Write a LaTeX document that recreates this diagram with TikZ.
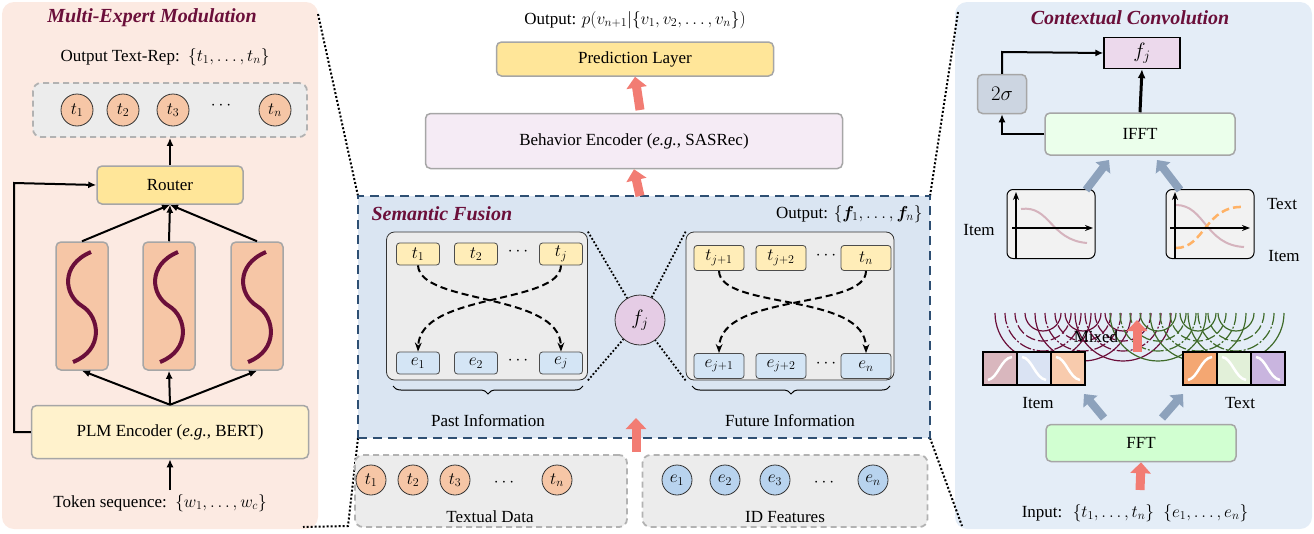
\documentclass[tikz,border=0pt]{standalone}
\usepackage{bm}
\usepackage{fontspec}
\setmainfont{Liberation Serif}
\usetikzlibrary{arrows.meta,decorations.pathreplacing}
\definecolor{maroon}{HTML}{6B0F3A}
\definecolor{peachbg}{HTML}{FCEAE2}
\definecolor{bluebg}{HTML}{E4EDF7}
\definecolor{semf}{HTML}{DAE5F2}
\definecolor{navy}{HTML}{2E4F73}
\definecolor{salmon}{HTML}{F27C73}
\definecolor{grayblue}{HTML}{8DA2BC}
\definecolor{yel}{HTML}{FFE699}
\definecolor{lyel}{HTML}{FFF2CC}
\definecolor{peach}{HTML}{F6C6A6}
\definecolor{lblue}{HTML}{B8D3EE}
\definecolor{grn}{HTML}{3F6B2A}
\definecolor{sqA}{HTML}{D9B7BE}
\definecolor{sqB}{HTML}{DAE3F3}
\definecolor{sqC}{HTML}{F8CBAD}
\definecolor{sqD}{HTML}{F4A772}
\definecolor{sqE}{HTML}{E2F0D9}
\definecolor{sqF}{HTML}{C9B5DF}
\definecolor{pinkc}{HTML}{D5B3BD}
\tikzset{
 every node/.style={font=\fontsize{17}{20}\selectfont},
 box/.style={draw=gray!70,line width=1.5pt,rounded corners=5pt,inner sep=0pt},
 ttl/.style={font=\fontsize{20}{24}\selectfont\bfseries\itshape,text=maroon},
 circ/.style={circle,draw=black!80,line width=0.8pt,minimum size=32pt,inner sep=0pt},
 sbox/.style={draw=black!70,line width=0.8pt,rounded corners=3pt,minimum width=43pt,minimum height=22pt,inner sep=0pt},
 arr/.style={-{Latex[length=8pt,width=7pt]},line width=2pt},
 blk/.style={-{Triangle[length=11pt,width=20pt]},line width=9pt,salmon},
 gblk/.style={-{Triangle[length=10pt,width=18pt]},line width=8pt,grayblue},
 dotl/.style={dotted,line width=2pt},
 dgbox/.style={draw=gray!60,line width=1.8pt,dash pattern=on 6pt off 4pt,rounded corners=8pt,fill=gray!15},
 st1/.style={solid},
 st2/.style={dash pattern=on 10pt off 3pt},
 st3/.style={dash pattern=on 12pt off 2pt on 2pt off 2pt},
 st4/.style={solid},
}
\begin{document}
\begin{tikzpicture}[x=1pt,y=-1pt]
\useasboundingbox (0,0) rectangle (1314,533);
% ---------- panels
\fill[peachbg,rounded corners=12pt] (2,2) rectangle (318,529);
\fill[bluebg,rounded corners=12pt] (955,2) rectangle (1312,529);
% dotted guides
\draw[dotl] (318,14) -- (358,196);
\draw[dotl] (358,438) -- (348,526) -- (303,527);
\draw[dotl] (958,12) -- (930,196);
\draw[dotl] (930,438) -- (962,526);
% ---------- left panel
\node[ttl] at (152,18) {Multi-Expert Modulation};
\node at (165,57) {Output Text-Rep: \,$\{t_1,\ldots,t_n\}$};
\node[dgbox,minimum width=274pt,minimum height=54pt] (ob) at (170,110) {};
\foreach \x/\l in {77/1,123/2,173/3,275/n}
  \node[circ,fill=peach] at (\x,110) {$t_{\l}$};
\node at (221,106) {$\cdots$};
\node[box,fill=yel,minimum width=146pt,minimum height=38pt] (router) at (170,185) {Router};
\foreach \x/\n in {82/e1,169/e2,257/e3}{
  \node[box,fill=peach,minimum width=52pt,minimum height=128pt] (\n) at (\x,306) {};
  \draw[maroon,line width=4pt] (\x+9,252) .. controls (\x-22,265) and (\x-18,295) .. (\x,306)
      .. controls (\x+18,317) and (\x+22,350) .. (\x-9,362);
}
\node[box,fill=lyel,minimum width=277pt,minimum height=53pt] (plm) at (170,432) {PLM Encoder (\textit{e.g.}, BERT)};
\coordinate (tok) at (170,490);
\node at (160,503) {Token sequence: \,$\{w_1,\ldots,w_c\}$};
\draw[arr] (router.north) -- (ob.south);
\foreach \n in {e1,e2,e3}{
  \draw[arr] (\n.north) -- (router.south);
  \draw[arr] (plm.north) -- (\n.south);
}
\draw[arr] (plm.west) -- (14,432) -- (14,183) -- (router.west);
\draw[arr] (tok) -- (plm.south);
% ---------- center
\node at (635,20) {Output: $p(v_{n+1}|\{v_1,v_2,\ldots,v_n\})$};
\node[box,fill=yel,minimum width=277pt,minimum height=34pt] (pred) at (635,59) {Prediction Layer};
\node[box,fill=violet!8,minimum width=417pt,minimum height=55pt] (beh) at (634,141) {Behavior Encoder (\textit{e.g.}, SASRec)};
\node[draw=navy,fill=semf,line width=2.2pt,dash pattern=on 9pt off 6pt,minimum width=572pt,minimum height=242pt,inner sep=0pt] (sf) at (644,317) {};
\draw[blk] (640,110) -- (pred.south);
\draw[blk] (640,196) -- (beh.south);
\node[ttl,anchor=west] at (368,214) {Semantic Fusion};
\node[anchor=east] at (926,214) {Output: $\{\bm{f}_1,\ldots,\bm{f}_n\}$};
% inner boxes
\node[draw=black!80,fill=gray!15,rounded corners=8pt,line width=0.8pt,minimum width=201pt,minimum height=148pt,inner sep=0pt] (pb) at (487,306) {};
\node[draw=black!80,fill=gray!15,rounded corners=8pt,line width=0.8pt,minimum width=208pt,minimum height=148pt,inner sep=0pt] (fb) at (790,306) {};
\node[circ,fill=violet!20,minimum size=50pt,font=\fontsize{22}{24}\selectfont] (fj) at (640,320) {$f_j$};
\foreach \x/\l/\n in {418/1/a,476/2/b,561/j/c}{
  \node[sbox,fill=yel!70] (pt\n) at (\x,254) {$t_{\l}$};
  \node[sbox,fill=lblue!60] (pe\n) at (\x,363) {$e_{\l}$};
}
\node at (518,252) {$\cdots$};\node at (518,361) {$\cdots$};
\foreach \x/\l/\n in {719/{j+1}/a,781/{j+2}/b,866/n/c}{
  \node[sbox,fill=yel!70,minimum width=50pt,minimum height=25pt] (ft\n) at (\x,258) {$t_{\l}$};
  \node[sbox,fill=lblue!60,minimum width=50pt,minimum height=25pt] (fe\n) at (\x,366) {$e_{\l}$};
}
\node at (826,256) {$\cdots$};\node at (826,364) {$\cdots$};
\draw[dash pattern=on 7pt off 4pt,line width=2pt,-{Stealth[length=9pt]}] (pta.south) .. controls (420,305) and (560,292) .. (pec.north);
\draw[dash pattern=on 7pt off 4pt,line width=2pt,-{Stealth[length=9pt]}] (ptc.south) .. controls (560,305) and (420,292) .. (pea.north);
\draw[dash pattern=on 7pt off 4pt,line width=2pt,-{Stealth[length=9pt]}] (fta.south) .. controls (720,310) and (866,292) .. (fec.north);
\draw[dash pattern=on 7pt off 4pt,line width=2pt,-{Stealth[length=9pt]}] (ftc.south) .. controls (866,310) and (720,292) .. (fea.north);
\draw[dotl,line width=1.8pt] (pb.north east) -- (fj);
\draw[dotl,line width=1.8pt] (pb.south east) -- (fj);
\draw[dotl,line width=1.8pt] (fb.north west) -- (fj);
\draw[dotl,line width=1.8pt] (fb.south west) -- (fj);
\draw[decorate,decoration={brace,mirror,amplitude=8pt},line width=1pt] (393,386) -- (583,386);
\draw[decorate,decoration={brace,mirror,amplitude=8pt},line width=1pt] (692,386) -- (890,386);
\node at (488,421) {Past Information};
\node at (790,421) {Future Information};
% inputs
\node[dgbox,minimum width=272pt,minimum height=72pt] (td) at (491,491) {};
\node[dgbox,minimum width=285pt,minimum height=72pt] (id) at (785,491) {};
\foreach \x/\l in {371/1,413/2,455/3,557/n}
  \node[circ,fill=peach,minimum size=30pt] at (\x,480) {$t_{\l}$};
\node at (504,483) {$\cdots$};
\foreach \x/\l in {677/1,725/2,775/3,873/n}
  \node[circ,fill=lblue,minimum size=30pt] at (\x,480) {$e_{\l}$};
\node at (824,483) {$\cdots$};
\node at (490,517) {Textual Data};
\node at (785,517) {ID Features};
\draw[blk] (636,452) -- (636,418);
% ---------- right panel
\node[ttl] at (1130,18) {Contextual Convolution};
\node[draw=black,line width=1.3pt,fill=violet!15,minimum width=76pt,minimum height=31pt,inner sep=0pt,font=\fontsize{22}{24}\selectfont] (fr) at (1142,53) {$f_j$};
\node[box,fill=grayblue!45,minimum width=49pt,minimum height=39pt,font=\fontsize{22}{24}\selectfont] (sig) at (1002,94) {$2\sigma$};
\node[box,fill=green!8!white,minimum width=190pt,minimum height=42pt] (ifft) at (1140,134) {IFFT};
\draw[arr] (sig.north) -- (1002,52) -- (fr.west);
\draw[arr] (ifft.west) -- (1002,134) -- (sig.south);
\draw[-{Latex[length=9pt,width=8pt]},line width=3pt] (ifft.north) -- (fr.south);
% graphs
\node[draw=black,fill=gray!10,rounded corners=6pt,line width=1pt,minimum width=88pt,minimum height=69pt,inner sep=0pt] (g1) at (1051,224) {};
\node[draw=black,fill=gray!10,rounded corners=6pt,line width=1pt,minimum width=88pt,minimum height=69pt,inner sep=0pt] (g2) at (1210,224) {};
\draw[pinkc,line width=2pt] (1021,209) .. controls (1050,205) and (1050,240) .. (1087,243);
\draw[-{Stealth[length=8pt]},line width=1.5pt] (1016,258) -- (1016,192);
\draw[-{Stealth[length=8pt]},line width=1.5pt] (1012,228) -- (1093,228);
\draw[pinkc,line width=2pt] (1176,205) .. controls (1205,205) and (1205,245) .. (1244,247);
\draw[orange!60,line width=2.5pt,dash pattern=on 8pt off 4pt] (1176,248) .. controls (1205,248) and (1205,205) .. (1244,207);
\draw[-{Stealth[length=8pt]},line width=1.5pt] (1175,258) -- (1175,192);
\draw[-{Stealth[length=8pt]},line width=1.5pt] (1170,228) -- (1250,228);
\node at (979,230) {Item};
\node at (1282,204) {Text};
\node at (1284,256) {Item};
\draw[gblk] (1086,190) -- (1109,160);
\draw[gblk] (1180,190) -- (1157,160);
% arcs
\foreach \c in {1043,1083,1123}
  \foreach \r/\s in {18/st1,28/st2,38/st3,48/st4}
    \draw[maroon,line width=1.2pt,\s] (\c+\r,313) arc (0:180:\r);
\foreach \c in {1158,1198,1236}
  \foreach \r/\s in {18/st1,28/st2,38/st3,48/st4}
    \draw[grn,line width=1.2pt,\s] (\c+\r,313) arc (0:180:\r);
\node at (1096,337) {Mixed};
\draw[blk] (1137,352) -- (1137,320);
% squares
\foreach \x/\col/\f in {983/sqA/1,1017/sqB/0,1051/sqC/0,1183/sqD/1,1217/sqE/0,1251/sqF/0}{
  \fill[\col] (\x,352) rectangle +(34,33);
  \ifnum\f=1
    \draw[white,line width=2.5pt] (\x+5,380) .. controls (\x+15,378) and (\x+18,358) .. (\x+29,357);
  \else
    \draw[white,line width=2.5pt] (\x+5,357) .. controls (\x+15,358) and (\x+18,378) .. (\x+29,380);
  \fi
  \draw[line width=1.3pt] (\x,352) rectangle +(34,33);
}
\node at (1038,403) {Item};
\node at (1240,403) {Text};
\node[box,fill=green!18!white,minimum width=190pt,minimum height=37pt] (fft) at (1141,443) {FFT};
\draw[gblk] (1104,418) -- (1084,394);
\draw[gblk] (1162,418) -- (1183,394);
\draw[blk] (1140,490) -- (fft.south);
\node at (1135,513) {Input: \;$\{t_1,\ldots,t_n\}$\;\;$\{e_1,\ldots,e_n\}$};
\end{tikzpicture}
\end{document}
